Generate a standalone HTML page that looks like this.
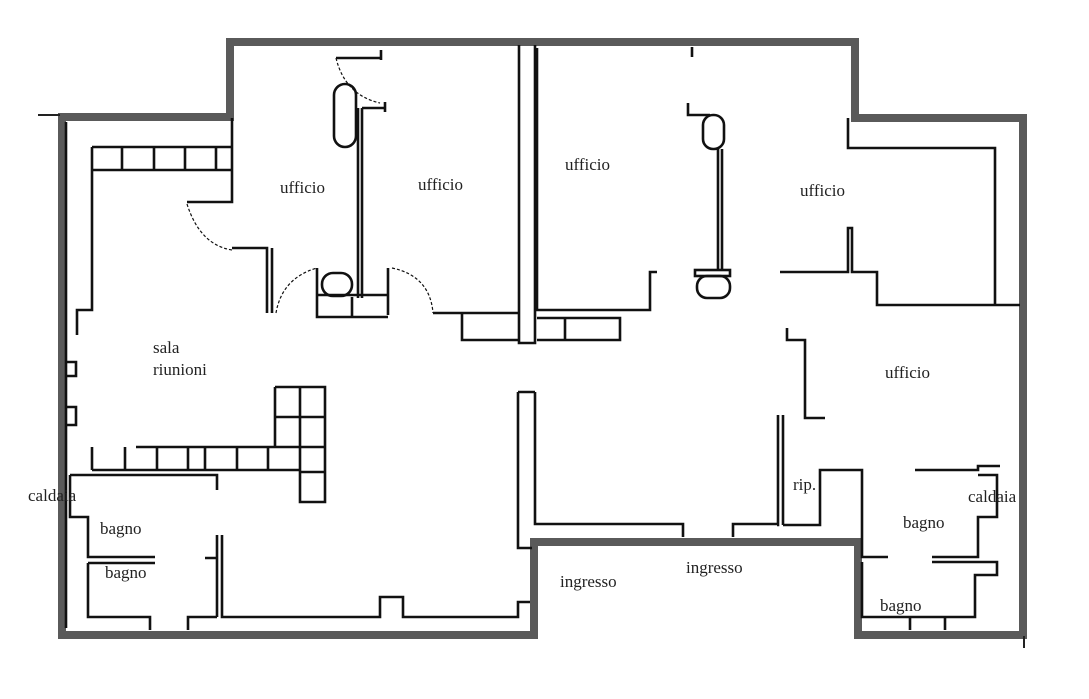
<!DOCTYPE html>
<html><head><meta charset="utf-8"><style>
html,body{margin:0;padding:0;background:#fff;}
svg{display:block}
text{font-family:"Liberation Serif",serif;font-size:17px;fill:#222}
</style></head><body>
<svg width="1089" height="699" viewBox="0 0 1089 699" xmlns="http://www.w3.org/2000/svg">
<rect width="1089" height="699" fill="#fff"/>
<g fill="none" stroke-linejoin="miter">
<path d="M62,117 H230 V42 H855 V118 H1023 V635 H858 V542 H534 V635 H62 Z" stroke="#5a5a5a" stroke-width="8"/>
<line x1="38" y1="115" x2="60" y2="115" stroke="#222" stroke-width="2"/>
<line x1="1024" y1="636" x2="1024" y2="648" stroke="#222" stroke-width="2"/>
</g>
<g fill="none" stroke="#111" stroke-width="2.6">
<path d="M66,122 V628"/>
<path d="M232,118 V202 H187"/>
<path d="M92,147 H232 M92,170 H232 M92,147 V310 H77 V335"/>
<path d="M122,147 V170 M154,147 V170 M185,147 V170 M216,147 V170"/>
<path d="M232,248 H267 V313 M272,248 V313"/>
<path d="M317,268 V317 H388 M352,297 V317 M317,295 H388 M388,268 V315"/>
<rect x="322" y="273" width="30" height="23" rx="11"/>
<rect x="334" y="84" width="22" height="63" rx="11"/>
<path d="M358,108 V298 M362,108 V298 M362,108 H385 M385,102 V112 M336,58 H380 M381,50 V60"/>
<path d="M433,313 H520 M462,313 V340 H520"/>
<path d="M519,45 V343 H535 V45"/>
<path d="M187,204 Q200,245 232,250 M276,313 Q282,278 317,268 M392,268 Q430,276 433,313 M336,58 Q345,95 380,103" stroke-width="1.2" stroke-dasharray="3,2"/>
<path d="M537,48 V310 H650 V272 H657 M537,318 H620 V340 H537 M565,318 V340"/>
<path d="M692,47 V57 M688,103 V115 H710"/>
<rect x="703" y="115" width="21" height="34" rx="10"/>
<path d="M718,149 V270 M722,149 V270"/>
<rect x="695" y="270" width="35" height="6"/>
<rect x="697" y="276" width="33" height="22" rx="10"/>
<path d="M780,272 H848 V228 H852 V272 H877 V305 H995 M848,118 V148 H995 V305 H1020"/>
<path d="M787,328 V340 H805 V418 H825 M783,415 V525 M778,415 V525 H777"/>
<path d="M783,525 H820 V470 H862 V557 H888 M915,470 H978 V466 H1000 M978,475 H997 V517 H978 V557 H932"/>
<path d="M862,562 V617 H975 V575 H997 V562 H932 M910,617 V630 M945,617 V630"/>
<path d="M136,447 H300 M92,470 H300 M92,447 V470 M125,447 V470 M157,447 V470 M188,447 V470 M205,447 V470 M237,447 V470 M268,447 V470"/>
<path d="M275,387 H325 V502 H300 V387 M275,387 V447 M275,417 H325 M300,447 H325 M300,472 H325"/>
<path d="M70,475 H217 V490 M70,475 V517 H88 V557 H155 M88,563 H155 M88,563 V617 H150 V630 M188,630 V617 H217 M205,558 H217 M217,535 V617 M222,535 V617 H380 V597 H403 V617 H518 V602 H530"/>
<path d="M65,362 H76 V376 H65 M65,407 H76 V425 H65"/>
<path d="M518,392 V548 H532 M535,392 V524 H683 V537 M733,537 V524 H777"/>
<path d="M518,392 H535"/>
</g>
<text x="280" y="193">ufficio</text>
<text x="418" y="190">ufficio</text>
<text x="565" y="170">ufficio</text>
<text x="800" y="196">ufficio</text>
<text x="885" y="378">ufficio</text>
<text x="153" y="353">sala</text>
<text x="153" y="375">riunioni</text>
<text x="28" y="501">caldaia</text>
<text x="100" y="534">bagno</text>
<text x="105" y="578">bagno</text>
<text x="560" y="587">ingresso</text>
<text x="686" y="573">ingresso</text>
<text x="793" y="490">rip.</text>
<text x="903" y="528">bagno</text>
<text x="968" y="502">caldaia</text>
<text x="880" y="611">bagno</text>
</svg>
</body></html>
